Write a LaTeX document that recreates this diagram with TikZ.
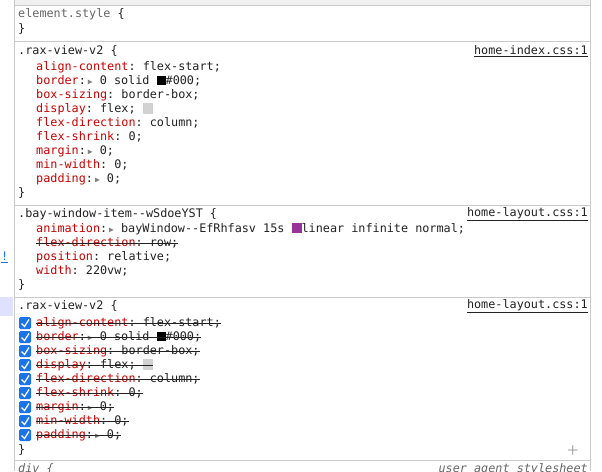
\documentclass[tikz,border=0pt]{standalone}
\usepackage{fontspec}
\setmonofont{DejaVu Sans Mono}
\usepackage{xcolor}
\definecolor{pr}{HTML}{C80000}
\definecolor{tx}{HTML}{222222}
\definecolor{sep}{HTML}{CACACA}
\definecolor{cb}{HTML}{1A73E8}
\newcommand{\pn}[1]{\textcolor{pr}{#1}}
\newcommand{\tri}{\,{\fontsize{8}{8}\selectfont\textcolor{gray}{▶}}}
\newcommand{\sq}{\textcolor{black}{\rule{9pt}{9pt}}}
\newcommand{\flexico}{\textcolor{gray!35}{\rule[-1pt]{10pt}{11pt}}}
\newcommand{\easeico}{\textcolor{violet!80}{\rule[-1pt]{10pt}{10pt}}}
\begin{document}
\begin{tikzpicture}[x=1pt,y=-1pt,
  every node/.style={font=\ttfamily\fontsize{11.8}{13}\selectfont,text=tx,inner sep=0pt,anchor=west},
  lnk/.style={anchor=east},
  strike/.style={draw=tx,line width=0.7pt},
  sepline/.style={draw=sep,line width=0.8pt},
  chk/.style={fill=cb,rounded corners=1.5pt}]
\useasboundingbox (0,0) rectangle (602,471);
\fill[white] (0,0) rectangle (602,471);
\fill[gray!12] (14,0) rectangle (590,5);
\fill[blue!12] (0,297) rectangle (13,316);
% frame lines
\draw[sepline] (14,0) -- (14,471);
\draw[sepline] (590,0) -- (590,471);
\foreach \yy in {5,41,205,297,460} \draw[sepline] (14,\yy) -- (590,\yy);
\node[text=black!60] (es) at (18,14) {element.style \textcolor{tx}{\{}};
\node (es2) at (18,29) {\}};
% block 1
\node (r1) at (18,51) {.rax-view-v2 \{};
\node[lnk] (l1) at (588,51) {\underline{home-index.css:1}};
\node (a1) at (36,67) {\pn{align-content}: flex-start;};
\node (a2) at (36,81) {\pn{border}:\tri{} 0 solid \sq{}\#000;};
\node (a3) at (36,95) {\pn{box-sizing}: border-box;};
\node (a4) at (36,109) {\pn{display}: flex; \flexico};
\node (a5) at (36,123) {\pn{flex-direction}: column;};
\node (a6) at (36,137) {\pn{flex-shrink}: 0;};
\node (a7) at (36,151) {\pn{margin}:\tri{} 0;};
\node (a8) at (36,165) {\pn{min-width}: 0;};
\node (a9) at (36,179) {\pn{padding}:\tri{} 0;};
\node (r1e) at (18,193) {\}};
% block 2
\node (b0) at (18,214) {.bay-window-item--wSdoeYST \{};
\node[lnk] (l2) at (588,214) {\underline{home-layout.css:1}};
\node (b1) at (36,229) {\pn{animation}:\tri{} bayWindow--EfRhfasv 15s \easeico{}linear infinite normal;};
\node (b2) at (36,243) {\pn{flex-direction}: row;};
\draw[strike] ([yshift=-0.5pt]b2.west) -- ([yshift=-0.5pt]b2.east);
\node (b3) at (36,257) {\pn{position}: relative;};
\node (b4) at (36,271) {\pn{width}: 220vw;};
\node (b5) at (18,285) {\}};
\node[text=cb] (ex) at (1,257) {\underline{!}};
% block 3
\node (c0) at (18,306) {.rax-view-v2 \{};
\node[lnk] (l3) at (588,306) {\underline{home-layout.css:1}};
\foreach \i/\t [count=\k from 0] in {
  c1/{\pn{align-content}: flex-start;},
  c2/{\pn{border}:\tri{} 0 solid \sq{}\#000;},
  c3/{\pn{box-sizing}: border-box;},
  c4/{\pn{display}: flex; \flexico},
  c5/{\pn{flex-direction}: column;},
  c6/{\pn{flex-shrink}: 0;},
  c7/{\pn{margin}:\tri{} 0;},
  c8/{\pn{min-width}: 0;},
  c9/{\pn{padding}:\tri{} 0;}}{
  \node (\i) at (36,323+14*\k) {\t};
  \draw[strike] ([yshift=-0.5pt]\i.west) -- ([yshift=-0.5pt]\i.east);
  \path[chk] (19,317+14*\k) rectangle (31,329+14*\k);
  \draw[white,line width=1.3pt] (21.5,323.5+14*\k) -- (24.5,326.5+14*\k) -- (29,319.5+14*\k);
}
\node (c10) at (18,450) {\}};
\node[font=\sffamily\fontsize{16}{16}\selectfont,text=black!65] (plus) at (567,451) {+};
\node[text=black!60] (dv) at (18,469) {\textit{div \{}};
\node[lnk,text=black!60] (ua) at (588,469) {\textit{user agent stylesheet}};
\end{tikzpicture}
\end{document}
